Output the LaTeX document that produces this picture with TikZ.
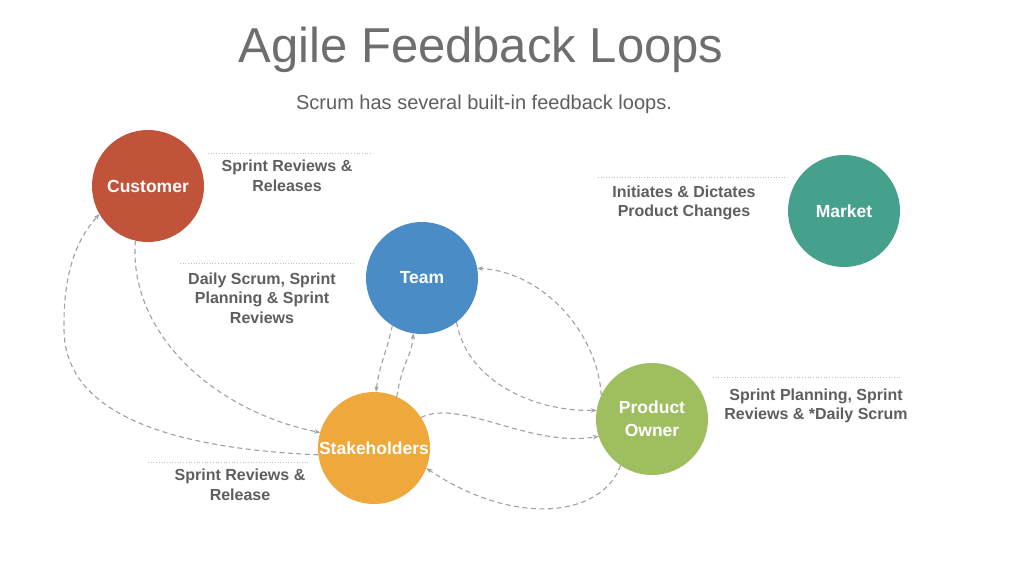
\documentclass[tikz,border=0pt]{standalone}
\usepackage{fontspec}
\setmainfont{Liberation Sans}
\usetikzlibrary{arrows.meta}
\definecolor{custc}{HTML}{C0533A}
\definecolor{teamc}{HTML}{4A8CC6}
\definecolor{marketc}{HTML}{46A18C}
\definecolor{poc}{HTML}{9EBE5F}
\definecolor{stakec}{HTML}{EEA83B}
\definecolor{txtc}{HTML}{5E5E5E}
\definecolor{linec}{HTML}{A0A0A0}
\tikzset{
  bubble/.style={circle, minimum size=112pt, inner sep=0pt, outer sep=0pt, text=white,
    font=\fontsize{17.5}{23}\selectfont\bfseries, align=center},
  lbl/.style={text=txtc, font=\fontsize{16}{19.5}\selectfont\bfseries, align=center, inner sep=0pt},
  rule/.style={draw=linec!70, dotted, line width=0.7pt},
  conn/.style={draw=linec, dash pattern=on 5pt off 3.5pt, line width=1.1pt,
    -{Stealth[length=6pt,width=4.5pt]}}
}
\begin{document}
\begin{tikzpicture}[x=1pt,y=-1pt]
\useasboundingbox (0,0) rectangle (1024,572);
\node[text=txtc!90, font=\fontsize{49}{53}\selectfont, inner sep=0pt] (title) at (481,50) {Agile Feedback Loops};
\node[text=txtc, font=\fontsize{20}{24}\selectfont, inner sep=0pt] (sub) at (484,104) {Scrum has several built-in feedback loops.};

\node[bubble, fill=custc] (cust) at (148,186) {Customer};
\node[bubble, fill=teamc] (team) at (422,278) {Team};
\node[bubble, fill=marketc] (market) at (844,211) {Market};
\node[bubble, fill=poc] (po) at (652,419) {Product\\Owner};
\node[bubble, fill=stakec] (stake) at (374,448) {Stakeholders};

\draw[rule] (208,153) -- (372,153);
\node[lbl] (l1) at (287,176) {Sprint Reviews \&\\Releases};
\draw[rule] (598,177) -- (787,177);
\node[lbl] (l2) at (684,203) {Initiates \& Dictates\\Product Changes};
\draw[rule] (180,263) -- (355,263);
\node[lbl] (l3) at (262,298) {Daily Scrum, Sprint\\Planning \& Sprint\\Reviews};
\draw[rule] (713,377) -- (900,377);
\node[lbl] (l4) at (816,406) {Sprint Planning, Sprint\\Reviews \& *Daily Scrum};
\draw[rule] (148,462) -- (308,462);
\node[lbl] (l5) at (240,485) {Sprint Reviews \&\\Release};

\draw[conn] (cust.-103) .. controls (128,330) and (210,410) .. (stake.164);
\draw[conn] (stake.187) .. controls (160,448) and (65,410) .. (64,330) .. controls (63,270) and (78,238) .. (cust.210);
\draw[conn] (team.238) .. controls (386,355) and (380,362) .. (stake.88);
\draw[conn] (stake.66) .. controls (402,362) and (412,356) .. (team.-99);
\draw[conn] (po.155) .. controls (598,335) and (545,272) .. (team.10);
\draw[conn] (team.-52) .. controls (468,385) and (540,412) .. (po.171);
\draw[conn] (stake.33) .. controls (460,398) and (530,448) .. (po.198);
\draw[conn] (po.-124) .. controls (600,520) and (510,525) .. (stake.-21);
\end{tikzpicture}
\end{document}
